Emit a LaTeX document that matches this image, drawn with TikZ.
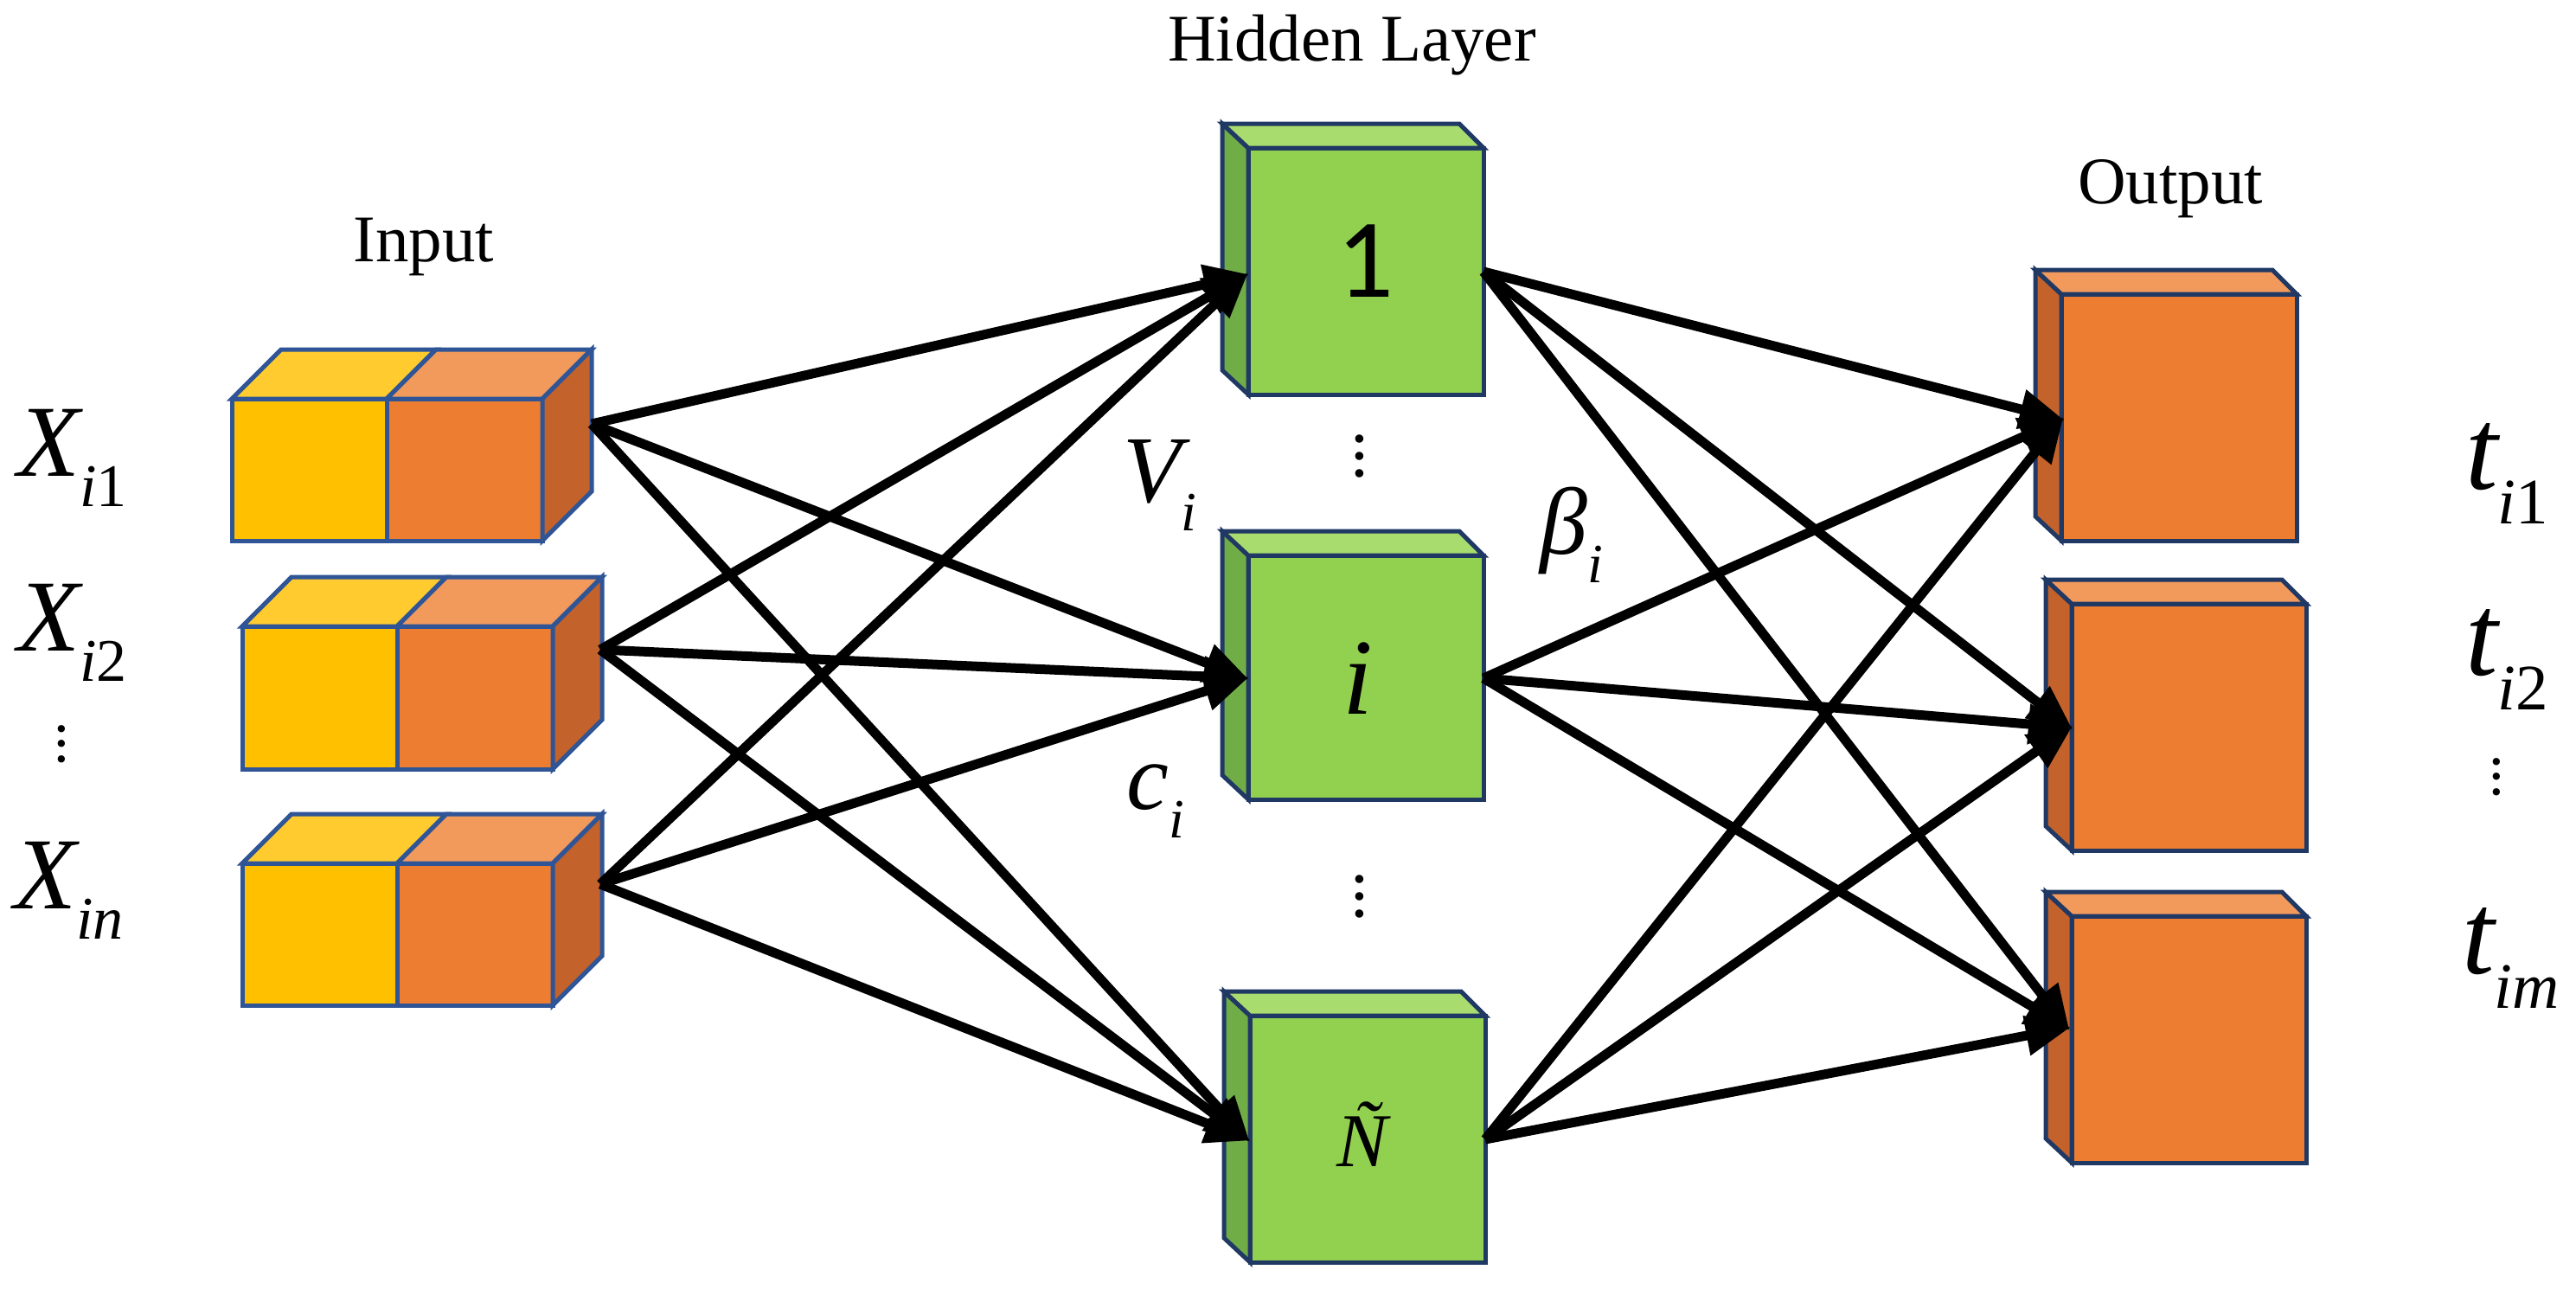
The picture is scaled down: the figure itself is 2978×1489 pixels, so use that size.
\documentclass[tikz,border=0pt]{standalone}
\usepackage{fontspec}
\setmainfont{Liberation Serif}
\newfontfamily\digitfont{Carlito}
\usetikzlibrary{arrows.meta}
\definecolor{yfront}{HTML}{FFC000}
\definecolor{ytop}{HTML}{FFCB2F}
\definecolor{ofront}{HTML}{ED7D31}
\definecolor{otop}{HTML}{F19A5C}
\definecolor{oside}{HTML}{C3622A}
\definecolor{gfront}{HTML}{92D050}
\definecolor{gtop}{HTML}{A9DC6E}
\definecolor{gside}{HTML}{70AD47}
\definecolor{inedge}{HTML}{2F5597}
\definecolor{navy}{HTML}{1F3864}
\tikzset{
  face/.style={line width=5pt, line join=miter},
  conn/.style={line width=11pt, -{Triangle[length=52pt,width=44pt]}, shorten >=-4pt},
  lbl/.style={font=\fontsize{77}{80}\selectfont, inner sep=0pt},
  big/.style={inner sep=0pt},
}
\newcommand{\incube}[4]{% x0, ytf, ybot, name
  \begin{scope}[face, draw=inedge]
  \fill[yfront] (#1,#2) rectangle (#1+179,#3);
  \draw (#1,#2) rectangle (#1+179,#3);
  \filldraw[fill=ofront] (#1+179,#2) rectangle (#1+359,#3);
  \filldraw[fill=ytop] (#1,#2) -- (#1+57,#2-57) -- (#1+236,#2-57) -- (#1+179,#2) -- cycle;
  \filldraw[fill=otop] (#1+179,#2) -- (#1+236,#2-57) -- (#1+416,#2-57) -- (#1+359,#2) -- cycle;
  \filldraw[fill=oside] (#1+359,#2) -- (#1+416,#2-57) -- (#1+416,#3-57) -- (#1+359,#3) -- cycle;
  \end{scope}}
\newcommand{\lcube}[7]{% xf, xr, ytf, ybot, front, top, side
  \begin{scope}[face, draw=navy]
  \filldraw[fill=#7] (#1,#3) -- (#1-30,#3-28) -- (#1-30,#4-28) -- (#1,#4) -- cycle;
  \filldraw[fill=#6] (#1,#3) -- (#1-30,#3-28) -- (#2-28,#3-28) -- (#2,#3) -- cycle;
  \filldraw[fill=#5] (#1,#3) rectangle (#2,#4);
  \end{scope}}
\begin{document}
\begin{tikzpicture}[x=1pt,y=-1pt]
\useasboundingbox (0,0) rectangle (2978,1489);
% input cubes
\incube{268}{461}{625}{}
\incube{280}{724}{889}{}
\incube{280}{998}{1162}{}
% hidden cubes
\lcube{1443}{1715}{171}{456}{gfront}{gtop}{gside}
\lcube{1443}{1715}{642}{924}{gfront}{gtop}{gside}
\lcube{1445}{1717}{1174}{1459}{gfront}{gtop}{gside}
% output cubes
\lcube{2383}{2655}{340}{625}{ofront}{otop}{oside}
\lcube{2395}{2666}{698}{983}{ofront}{otop}{oside}
\lcube{2395}{2666}{1059}{1344}{ofront}{otop}{oside}
% anchor coordinates
\coordinate (in1) at (684,490);
\coordinate (in2) at (694,751);
\coordinate (in3) at (694,1022);
\coordinate (h1in) at (1440,318);
\coordinate (h2in) at (1440,784);
\coordinate (h3in) at (1442,1317);
\coordinate (h1out) at (1715,314);
\coordinate (h2out) at (1715,784);
\coordinate (h3out) at (1717,1317);
\coordinate (o1) at (2383,485);
\coordinate (o2) at (2393,841);
\coordinate (o3) at (2390,1188);
% connectors
\foreach \a in {in1,in2,in3}{\foreach \b in {h1in,h2in,h3in}{\draw[conn] (\a) -- (\b);}}
\foreach \a in {h1out,h2out,h3out}{\foreach \b in {o1,o2,o3}{\draw[conn] (\a) -- (\b);}}
% titles
\node[lbl] (tin) at (490,285) {Input};
\node[lbl] (thid) at (1563,52) {Hidden Layer};
\node[lbl] (tout) at (2509,218) {Output};
% hidden labels
\node[big, font=\digitfont\fontsize{130}{130}\selectfont] (n1) at (1578,302) {1};
\node[big, font=\fontsize{125}{125}\selectfont\itshape] (ni) at (1570,784) {i};
\node[big, font=\fontsize{88}{88}\selectfont\itshape] (nN) at (1575,1311) {Ñ};
\node[big, font=\fontsize{80}{80}\selectfont] (d1) at (1572,527) {\rotatebox{90}{...}};
\node[big, font=\fontsize{80}{80}\selectfont] (d2) at (1572,1036) {\rotatebox{90}{...}};
% weight labels
\node[big, anchor=base west, font=\fontsize{110}{110}\selectfont\itshape] (V) at (1298,580) {V\raisebox{-0.3em}{\fontsize{64}{64}\selectfont i}};
\node[big, anchor=base west, font=\fontsize{110}{110}\selectfont\itshape] (c) at (1302,935) {c\raisebox{-0.3em}{\fontsize{64}{64}\selectfont i}};
\node[big, anchor=base west, font=\fontsize{110}{110}\selectfont\itshape] (b) at (1780,640) {β\raisebox{-0.3em}{\fontsize{64}{64}\selectfont i}};
% input labels
\node[big, anchor=base west, font=\fontsize{118}{118}\selectfont\itshape] (x1) at (20,550) {X\raisebox{-0.3em}{\fontsize{70}{70}\selectfont i\upshape 1}};
\node[big, anchor=base west, font=\fontsize{118}{118}\selectfont\itshape] (x2) at (20,752) {X\raisebox{-0.3em}{\fontsize{70}{70}\selectfont i\upshape 2}};
\node[big, font=\fontsize{70}{70}\selectfont] (xd) at (71,860) {\rotatebox{90}{...}};
\node[big, anchor=base west, font=\fontsize{118}{118}\selectfont\itshape] (x3) at (16,1050) {X\raisebox{-0.3em}{\fontsize{70}{70}\selectfont in}};
% output labels
\node[big, anchor=base west, font=\fontsize{135}{135}\selectfont\itshape] (t1) at (2850,565) {t\raisebox{-0.3em}{\fontsize{75}{75}\selectfont i\upshape 1}};
\node[big, anchor=base west, font=\fontsize{135}{135}\selectfont\itshape] (t2) at (2850,780) {t\raisebox{-0.3em}{\fontsize{75}{75}\selectfont i\upshape 2}};
\node[big, font=\fontsize{70}{70}\selectfont] (td) at (2886,898) {\rotatebox{90}{...}};
\node[big, anchor=base west, font=\fontsize{135}{135}\selectfont\itshape] (t3) at (2846,1125) {t\raisebox{-0.3em}{\fontsize{75}{75}\selectfont im}};
\end{tikzpicture}
\end{document}
